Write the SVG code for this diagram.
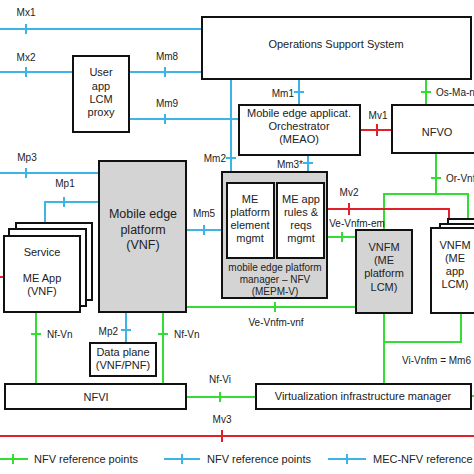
<svg xmlns="http://www.w3.org/2000/svg" width="474" height="474" viewBox="0 0 474 474">
<style>
.box{fill:#fff;stroke:#111;stroke-width:2}
.grey{fill:#d4d4d4;stroke:#111;stroke-width:2}
.b{stroke:#3cb4e6;stroke-width:2;fill:none}
.g{stroke:#33dd33;stroke-width:2;fill:none}
.r{stroke:#e0202a;stroke-width:2;fill:none}
text{font-family:"Liberation Sans",Arial,sans-serif;fill:#222}
.t{font-size:11px;text-anchor:middle}
.tb{font-size:12.5px;text-anchor:middle}
.l{font-size:10px}
.m{text-anchor:middle}
.e{text-anchor:end}
</style>
<rect width="474" height="474" fill="#fff"/>
<g id="connectors">
<!-- Mx1 -->
<path class="b" d="M0 29H202M26 24V34"/><text class="l m" x="26" y="16">Mx1</text>
<!-- Mx2 -->
<path class="b" d="M0 72H73M26 67V77"/><text class="l m" x="26" y="61">Mx2</text>
<!-- Mm8 -->
<path class="b" d="M129 72H202M165 67V77"/><text class="l m" x="167" y="60">Mm8</text>
<!-- Mm9 -->
<path class="b" d="M129 119H239M165 114V124"/><text class="l m" x="167" y="107">Mm9</text>
<!-- Mm2 -->
<path class="b" d="M231 79V172M226 158H236"/><text class="l e" x="226" y="162">Mm2</text>
<!-- Mm1 -->
<path class="b" d="M299 79V105M294 92H304"/><text class="l e" x="294" y="97">Mm1</text>
<!-- Mm3* -->
<path class="b" d="M308 155V172M303 163H313"/><text class="l e" x="303" y="168">Mm3*</text>
<!-- Mv1 -->
<path class="r" d="M360 130H392M377 124V136"/><text class="l m" x="378" y="119">Mv1</text>
<!-- Os-Ma-nfvo -->
<path class="g" d="M426 79V105M421 92H431"/><text class="l" x="436" y="96">Os-Ma-nfvo</text>
<!-- Or-Vnfm -->
<path class="g" d="M436 153V194M431 178H441M384 230V194H468V228"/><text class="l" x="446" y="182">Or-Vnfm</text>
<!-- Mv2 -->
<path class="r" d="M326 209H449V228M349 203V215"/><text class="l m" x="349" y="196">Mv2</text>
<!-- Ve-Vnfm-em -->
<path class="g" d="M326 237H356M342 232V242"/><text class="l m" x="357" y="227">Ve-Vnfm-em</text>
<!-- Ve-Vnfm-vnf -->
<path class="g" d="M186 307H356M275 302V312"/><text class="l m" x="276" y="326">Ve-Vnfm-vnf</text>
<!-- Mm5 -->
<path class="b" d="M186 230H222M204 225V235"/><text class="l m" x="204" y="217">Mm5</text>
<!-- Mp3 -->
<path class="b" d="M0 173H99M26 168V178"/><text class="l m" x="27" y="161">Mp3</text>
<!-- Mp1 -->
<path class="b" d="M99 202H45V236M64 197V207"/><text class="l m" x="65" y="187">Mp1</text>
<!-- red stub -->
<path class="r" d="M0 277H4"/>
<!-- Nf-Vn -->
<path class="g" d="M36 312V384M31 334H41"/><text class="l" x="47" y="338">Nf-Vn</text>
<path class="g" d="M163 312V384M158 334H168"/><text class="l" x="174" y="338">Nf-Vn</text>
<!-- Mp2 -->
<path class="b" d="M126 312V343M121 330H131"/><text class="l e" x="118" y="335">Mp2</text>
<!-- Nf-Vi -->
<path class="g" d="M186 397H256M220 392V402"/><text class="l m" x="220" y="383">Nf-Vi</text>
<!-- Vi-Vnfm -->
<path class="g" d="M384 313V384M461 313V342H384"/><text class="l" x="402" y="364">Vi-Vnfm = Mm6</text>
<path class="g" d="M471 396H474"/>
<!-- Mv3 -->
<path class="r" d="M0 436H474M222 430V442"/><text class="l m" x="222" y="423">Mv3</text>
</g>
<g id="oss"><rect class="box" x="202" y="17" width="269" height="62"/><text class="t" x="336" y="48">Operations  Support  System</text></g>
<g id="proxy"><rect class="box" x="73" y="56" width="56" height="76"/><text class="t" x="101" y="76">User</text><text class="t" x="101" y="90">app</text><text class="t" x="101" y="103">LCM</text><text class="t" x="101" y="116">proxy</text></g>
<g id="meao"><rect class="box" x="239" y="105" width="121" height="50"/><text class="t" x="299" y="117">Mobile edge applicat.</text><text class="t" x="299" y="130">Orchestrator</text><text class="t" x="299" y="143">(MEAO)</text></g>
<g id="nfvo"><rect class="box" x="392" y="105" width="90" height="48"/><text class="t" x="437" y="136">NFVO</text></g>
<g id="mep"><rect class="grey" x="99" y="161" width="87" height="151"/><text class="tb" x="143" y="218">Mobile edge</text><text class="tb" x="143" y="234">platform</text><text class="tb" x="143" y="249">(VNF)</text></g>
<g id="service"><rect class="box" x="16" y="223" width="76" height="77"/><rect class="box" x="9" y="229" width="77" height="77"/><rect class="box" x="4" y="236" width="76" height="76"/><text class="t" x="42" y="256">Service</text><text class="t" x="42" y="282">ME App</text><text class="t" x="42" y="295">(VNF)</text></g>
<g id="mepm"><rect class="grey" x="222" y="172" width="105" height="126"/><rect class="box" x="227" y="183" width="47" height="75"/><rect class="box" x="277" y="183" width="47" height="75"/>
<text class="t" x="250" y="203">ME</text><text class="t" x="250" y="216">platform</text><text class="t" x="250" y="229">element</text><text class="t" x="250" y="242">mgmt</text>
<text class="t" x="301" y="203">ME app</text><text class="t" x="301" y="216">rules &amp;</text><text class="t" x="301" y="229">reqs</text><text class="t" x="301" y="242">mgmt</text>
<text class="t" x="275" y="271" style="font-size:10px">mobile edge platform</text><text class="t" x="275" y="283" style="font-size:10px">manager – NFV</text><text class="t" x="275" y="295" style="font-size:10px">(MEPM-V)</text></g>
<g id="vnfm-platform"><rect class="grey" x="356" y="230" width="56" height="83"/><text class="t" x="384" y="251">VNFM</text><text class="t" x="384" y="264">(ME</text><text class="t" x="384" y="277">platform</text><text class="t" x="384" y="291">LCM)</text></g>
<g id="vnfm-app"><rect class="box" x="448" y="219" width="40" height="94"/><rect class="box" x="440" y="224" width="40" height="89"/><rect class="box" x="431" y="228" width="50" height="85"/><text class="t" x="455" y="249">VNFM</text><text class="t" x="455" y="262">(ME</text><text class="t" x="455" y="275">app</text><text class="t" x="455" y="288">LCM)</text></g>
<g id="dataplane"><rect class="box" x="90" y="343" width="66" height="33"/><text class="t" x="123" y="356">Data plane</text><text class="t" x="123" y="369">(VNF/PNF)</text></g>
<g id="nfvi"><rect class="box" x="5" y="384" width="181" height="25"/><text class="t" x="96" y="401">NFVI</text></g>
<g id="vim"><rect class="box" x="256" y="384" width="215" height="25"/><text class="t" x="363" y="400">Virtualization  infrastructure manager</text></g>
<g id="legend">
<path class="g" d="M0 459H28M13 454V464"/><text class="t" x="34" y="463" style="text-anchor:start">NFV reference points</text>
<path class="b" d="M164 459H200M182 454V464"/><text class="t" x="207" y="463" style="text-anchor:start">NFV reference points</text>
<path class="b" d="M328 459H366M347 454V464"/><text class="t" x="373" y="463" style="text-anchor:start">MEC-NFV reference points</text>
</g>
</svg>
